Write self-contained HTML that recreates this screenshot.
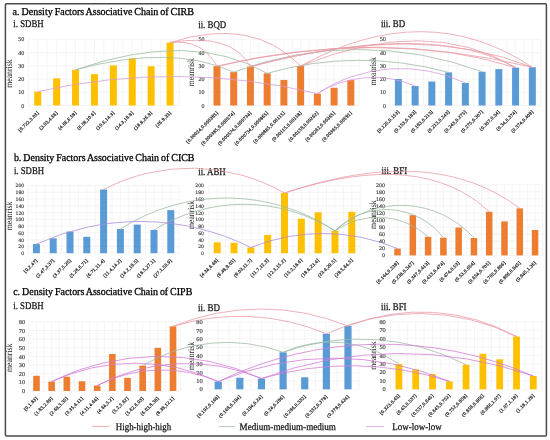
<!DOCTYPE html>
<html><head><meta charset="utf-8"><title>Density Factors Associative Chain</title><style>
html,body{margin:0;padding:0;background:#fff;}
svg{display:block;}
text{font-family:"Liberation Serif","Times New Roman",serif;text-rendering:geometricPrecision;}
.gr{stroke:#EFEFEF;stroke-width:0.6;}
.tk{fill:#4a4a4a;stroke:#4a4a4a;stroke-width:0.18;}
.xl{fill:#2e2e2e;stroke:#2e2e2e;stroke-width:0.27;}
.mr{fill:#262626;font-size:9.2px;}
.st{fill:#111;stroke:#111;stroke-width:0.25;font-size:10.2px;}
.tt{fill:#000;stroke:#000;stroke-width:0.3;word-spacing:-0.6px;font-size:10.6px;}
.lg{fill:#111;stroke:#111;stroke-width:0.25;font-size:10.0px;}
</style></head>
<body><svg width="550" height="440" viewBox="0 0 550 440">
<rect width="550" height="440" fill="#fff"/>
<line x1="28.3" y1="105.5" x2="179.5" y2="105.5" class="gr"/>
<line x1="28.3" y1="92.26" x2="179.5" y2="92.26" class="gr"/>
<line x1="28.3" y1="79.02" x2="179.5" y2="79.02" class="gr"/>
<line x1="28.3" y1="65.78" x2="179.5" y2="65.78" class="gr"/>
<line x1="28.3" y1="52.54" x2="179.5" y2="52.54" class="gr"/>
<line x1="28.3" y1="39.3" x2="179.5" y2="39.3" class="gr"/>
<line x1="28.3" y1="39.3" x2="28.3" y2="105.5" class="gr"/>
<line x1="37.75" y1="39.3" x2="37.75" y2="105.5" class="gr"/>
<line x1="47.2" y1="39.3" x2="47.2" y2="105.5" class="gr"/>
<line x1="56.65" y1="39.3" x2="56.65" y2="105.5" class="gr"/>
<line x1="66.1" y1="39.3" x2="66.1" y2="105.5" class="gr"/>
<line x1="75.55" y1="39.3" x2="75.55" y2="105.5" class="gr"/>
<line x1="85" y1="39.3" x2="85" y2="105.5" class="gr"/>
<line x1="94.45" y1="39.3" x2="94.45" y2="105.5" class="gr"/>
<line x1="103.9" y1="39.3" x2="103.9" y2="105.5" class="gr"/>
<line x1="113.35" y1="39.3" x2="113.35" y2="105.5" class="gr"/>
<line x1="122.8" y1="39.3" x2="122.8" y2="105.5" class="gr"/>
<line x1="132.25" y1="39.3" x2="132.25" y2="105.5" class="gr"/>
<line x1="141.7" y1="39.3" x2="141.7" y2="105.5" class="gr"/>
<line x1="151.15" y1="39.3" x2="151.15" y2="105.5" class="gr"/>
<line x1="160.6" y1="39.3" x2="160.6" y2="105.5" class="gr"/>
<line x1="170.05" y1="39.3" x2="170.05" y2="105.5" class="gr"/>
<line x1="179.5" y1="39.3" x2="179.5" y2="105.5" class="gr"/>
<text x="24.3" y="107.66" class="tk" font-size="6.0" text-anchor="end" textLength="3" lengthAdjust="spacingAndGlyphs">0</text>
<text x="24.3" y="94.42" class="tk" font-size="6.0" text-anchor="end" textLength="6" lengthAdjust="spacingAndGlyphs">10</text>
<text x="24.3" y="81.18" class="tk" font-size="6.0" text-anchor="end" textLength="6" lengthAdjust="spacingAndGlyphs">20</text>
<text x="24.3" y="67.94" class="tk" font-size="6.0" text-anchor="end" textLength="6" lengthAdjust="spacingAndGlyphs">30</text>
<text x="24.3" y="54.7" class="tk" font-size="6.0" text-anchor="end" textLength="6" lengthAdjust="spacingAndGlyphs">40</text>
<text x="24.3" y="41.46" class="tk" font-size="6.0" text-anchor="end" textLength="6" lengthAdjust="spacingAndGlyphs">50</text>
<text transform="translate(12.2,73.6) rotate(-90)" class="mr" text-anchor="middle" textLength="28.2" lengthAdjust="spacingAndGlyphs">meanrisk</text>
<rect x="34.25" y="91.6" width="7" height="13.9" fill="#FFC000"/>
<rect x="53.15" y="78.36" width="7" height="27.14" fill="#FFC000"/>
<rect x="72.05" y="69.75" width="7" height="35.75" fill="#FFC000"/>
<rect x="90.95" y="74.12" width="7" height="31.38" fill="#FFC000"/>
<rect x="109.85" y="65.38" width="7" height="40.12" fill="#FFC000"/>
<rect x="128.75" y="58.37" width="7" height="47.13" fill="#FFC000"/>
<rect x="147.65" y="66.18" width="7" height="39.32" fill="#FFC000"/>
<rect x="166.55" y="42.61" width="7" height="62.89" fill="#FFC000"/>
<text transform="translate(39.05,113.4) rotate(-45)" class="xl" font-size="4.81" text-anchor="end" textLength="26.55" lengthAdjust="spacing">[0.722,3.03]</text>
<text transform="translate(57.95,113.4) rotate(-45)" class="xl" font-size="4.81" text-anchor="end" textLength="23.85" lengthAdjust="spacing">(3.03,4.66]</text>
<text transform="translate(76.85,113.4) rotate(-45)" class="xl" font-size="4.81" text-anchor="end" textLength="23.85" lengthAdjust="spacing">(4.66,6.58]</text>
<text transform="translate(95.75,113.4) rotate(-45)" class="xl" font-size="4.81" text-anchor="end" textLength="23.85" lengthAdjust="spacing">(6.58,10.6]</text>
<text transform="translate(114.65,113.4) rotate(-45)" class="xl" font-size="4.81" text-anchor="end" textLength="23.85" lengthAdjust="spacing">(10.6,14.3]</text>
<text transform="translate(133.55,113.4) rotate(-45)" class="xl" font-size="4.81" text-anchor="end" textLength="23.85" lengthAdjust="spacing">(14.3,18.8]</text>
<text transform="translate(152.45,113.4) rotate(-45)" class="xl" font-size="4.81" text-anchor="end" textLength="23.85" lengthAdjust="spacing">(18.8,26.9]</text>
<text transform="translate(171.35,113.4) rotate(-45)" class="xl" font-size="4.81" text-anchor="end" textLength="19.8" lengthAdjust="spacing">(26.9,33]</text>
<text x="13.3" y="27.4" class="st" textLength="30.4" lengthAdjust="spacingAndGlyphs">i. SDBH</text>
<line x1="208.6" y1="105.5" x2="359.2" y2="105.5" class="gr"/>
<line x1="208.6" y1="92.26" x2="359.2" y2="92.26" class="gr"/>
<line x1="208.6" y1="79.02" x2="359.2" y2="79.02" class="gr"/>
<line x1="208.6" y1="65.78" x2="359.2" y2="65.78" class="gr"/>
<line x1="208.6" y1="52.54" x2="359.2" y2="52.54" class="gr"/>
<line x1="208.6" y1="39.3" x2="359.2" y2="39.3" class="gr"/>
<line x1="208.6" y1="39.3" x2="208.6" y2="105.5" class="gr"/>
<line x1="216.97" y1="39.3" x2="216.97" y2="105.5" class="gr"/>
<line x1="225.33" y1="39.3" x2="225.33" y2="105.5" class="gr"/>
<line x1="233.7" y1="39.3" x2="233.7" y2="105.5" class="gr"/>
<line x1="242.07" y1="39.3" x2="242.07" y2="105.5" class="gr"/>
<line x1="250.43" y1="39.3" x2="250.43" y2="105.5" class="gr"/>
<line x1="258.8" y1="39.3" x2="258.8" y2="105.5" class="gr"/>
<line x1="267.17" y1="39.3" x2="267.17" y2="105.5" class="gr"/>
<line x1="275.53" y1="39.3" x2="275.53" y2="105.5" class="gr"/>
<line x1="283.9" y1="39.3" x2="283.9" y2="105.5" class="gr"/>
<line x1="292.27" y1="39.3" x2="292.27" y2="105.5" class="gr"/>
<line x1="300.63" y1="39.3" x2="300.63" y2="105.5" class="gr"/>
<line x1="309" y1="39.3" x2="309" y2="105.5" class="gr"/>
<line x1="317.37" y1="39.3" x2="317.37" y2="105.5" class="gr"/>
<line x1="325.73" y1="39.3" x2="325.73" y2="105.5" class="gr"/>
<line x1="334.1" y1="39.3" x2="334.1" y2="105.5" class="gr"/>
<line x1="342.47" y1="39.3" x2="342.47" y2="105.5" class="gr"/>
<line x1="350.83" y1="39.3" x2="350.83" y2="105.5" class="gr"/>
<line x1="359.2" y1="39.3" x2="359.2" y2="105.5" class="gr"/>
<text x="204.4" y="107.66" class="tk" font-size="6.0" text-anchor="end" textLength="3" lengthAdjust="spacingAndGlyphs">0</text>
<text x="204.4" y="94.42" class="tk" font-size="6.0" text-anchor="end" textLength="6" lengthAdjust="spacingAndGlyphs">10</text>
<text x="204.4" y="81.18" class="tk" font-size="6.0" text-anchor="end" textLength="6" lengthAdjust="spacingAndGlyphs">20</text>
<text x="204.4" y="67.94" class="tk" font-size="6.0" text-anchor="end" textLength="6" lengthAdjust="spacingAndGlyphs">30</text>
<text x="204.4" y="54.7" class="tk" font-size="6.0" text-anchor="end" textLength="6" lengthAdjust="spacingAndGlyphs">40</text>
<text x="204.4" y="41.46" class="tk" font-size="6.0" text-anchor="end" textLength="6" lengthAdjust="spacingAndGlyphs">50</text>
<text transform="translate(194,72.2) rotate(-90)" class="mr" text-anchor="middle" textLength="28.0" lengthAdjust="spacingAndGlyphs">meanrisk</text>
<rect x="213.47" y="66.18" width="7" height="39.32" fill="#ED7D31"/>
<rect x="230.2" y="72.14" width="7" height="33.36" fill="#ED7D31"/>
<rect x="246.93" y="66.57" width="7" height="38.93" fill="#ED7D31"/>
<rect x="263.67" y="73.33" width="7" height="32.17" fill="#ED7D31"/>
<rect x="280.4" y="79.95" width="7" height="25.55" fill="#ED7D31"/>
<rect x="297.13" y="66.04" width="7" height="39.46" fill="#ED7D31"/>
<rect x="313.87" y="93.58" width="7" height="11.92" fill="#ED7D31"/>
<rect x="330.6" y="87.76" width="7" height="17.74" fill="#ED7D31"/>
<rect x="347.33" y="80.08" width="7" height="25.42" fill="#ED7D31"/>
<text transform="translate(218.27,113.4) rotate(-45)" class="xl" font-size="4.81" text-anchor="end" textLength="42.75" lengthAdjust="spacing">[0.00024,0.000385]</text>
<text transform="translate(235,113.4) rotate(-45)" class="xl" font-size="4.81" text-anchor="end" textLength="45.45" lengthAdjust="spacing">(0.000385,0.000574]</text>
<text transform="translate(251.73,113.4) rotate(-45)" class="xl" font-size="4.81" text-anchor="end" textLength="45.45" lengthAdjust="spacing">(0.000574,0.000734]</text>
<text transform="translate(268.47,113.4) rotate(-45)" class="xl" font-size="4.81" text-anchor="end" textLength="45.45" lengthAdjust="spacing">(0.000734,0.000865]</text>
<text transform="translate(285.2,113.4) rotate(-45)" class="xl" font-size="4.81" text-anchor="end" textLength="42.55" lengthAdjust="spacing">(0.000865,0.00115]</text>
<text transform="translate(301.93,113.4) rotate(-45)" class="xl" font-size="4.81" text-anchor="end" textLength="39.85" lengthAdjust="spacing">(0.00115,0.00158]</text>
<text transform="translate(318.67,113.4) rotate(-45)" class="xl" font-size="4.81" text-anchor="end" textLength="40.05" lengthAdjust="spacing">(0.00158,0.00262]</text>
<text transform="translate(335.4,113.4) rotate(-45)" class="xl" font-size="4.81" text-anchor="end" textLength="40.05" lengthAdjust="spacing">(0.00262,0.00365]</text>
<text transform="translate(352.13,113.4) rotate(-45)" class="xl" font-size="4.81" text-anchor="end" textLength="40.05" lengthAdjust="spacing">(0.00365,0.00591]</text>
<text x="198.2" y="28.3" class="st" textLength="28.0" lengthAdjust="spacingAndGlyphs">ii. BQD</text>
<line x1="390" y1="105.5" x2="540.7" y2="105.5" class="gr"/>
<line x1="390" y1="92.26" x2="540.7" y2="92.26" class="gr"/>
<line x1="390" y1="79.02" x2="540.7" y2="79.02" class="gr"/>
<line x1="390" y1="65.78" x2="540.7" y2="65.78" class="gr"/>
<line x1="390" y1="52.54" x2="540.7" y2="52.54" class="gr"/>
<line x1="390" y1="39.3" x2="540.7" y2="39.3" class="gr"/>
<line x1="390" y1="39.3" x2="390" y2="105.5" class="gr"/>
<line x1="398.37" y1="39.3" x2="398.37" y2="105.5" class="gr"/>
<line x1="406.74" y1="39.3" x2="406.74" y2="105.5" class="gr"/>
<line x1="415.12" y1="39.3" x2="415.12" y2="105.5" class="gr"/>
<line x1="423.49" y1="39.3" x2="423.49" y2="105.5" class="gr"/>
<line x1="431.86" y1="39.3" x2="431.86" y2="105.5" class="gr"/>
<line x1="440.23" y1="39.3" x2="440.23" y2="105.5" class="gr"/>
<line x1="448.61" y1="39.3" x2="448.61" y2="105.5" class="gr"/>
<line x1="456.98" y1="39.3" x2="456.98" y2="105.5" class="gr"/>
<line x1="465.35" y1="39.3" x2="465.35" y2="105.5" class="gr"/>
<line x1="473.72" y1="39.3" x2="473.72" y2="105.5" class="gr"/>
<line x1="482.09" y1="39.3" x2="482.09" y2="105.5" class="gr"/>
<line x1="490.47" y1="39.3" x2="490.47" y2="105.5" class="gr"/>
<line x1="498.84" y1="39.3" x2="498.84" y2="105.5" class="gr"/>
<line x1="507.21" y1="39.3" x2="507.21" y2="105.5" class="gr"/>
<line x1="515.58" y1="39.3" x2="515.58" y2="105.5" class="gr"/>
<line x1="523.96" y1="39.3" x2="523.96" y2="105.5" class="gr"/>
<line x1="532.33" y1="39.3" x2="532.33" y2="105.5" class="gr"/>
<line x1="540.7" y1="39.3" x2="540.7" y2="105.5" class="gr"/>
<text x="386" y="107.66" class="tk" font-size="6.0" text-anchor="end" textLength="3" lengthAdjust="spacingAndGlyphs">0</text>
<text x="386" y="94.42" class="tk" font-size="6.0" text-anchor="end" textLength="6" lengthAdjust="spacingAndGlyphs">10</text>
<text x="386" y="81.18" class="tk" font-size="6.0" text-anchor="end" textLength="6" lengthAdjust="spacingAndGlyphs">20</text>
<text x="386" y="67.94" class="tk" font-size="6.0" text-anchor="end" textLength="6" lengthAdjust="spacingAndGlyphs">30</text>
<text x="386" y="54.7" class="tk" font-size="6.0" text-anchor="end" textLength="6" lengthAdjust="spacingAndGlyphs">40</text>
<text x="386" y="41.46" class="tk" font-size="6.0" text-anchor="end" textLength="6" lengthAdjust="spacingAndGlyphs">50</text>
<text transform="translate(376,71.3) rotate(-90)" class="mr" text-anchor="middle" textLength="28.2" lengthAdjust="spacingAndGlyphs">meanrisk</text>
<rect x="394.87" y="79.02" width="7" height="26.48" fill="#5B9BD5"/>
<rect x="411.62" y="86.04" width="7" height="19.46" fill="#5B9BD5"/>
<rect x="428.36" y="81.54" width="7" height="23.96" fill="#5B9BD5"/>
<rect x="445.11" y="72.4" width="7" height="33.1" fill="#5B9BD5"/>
<rect x="461.85" y="82.99" width="7" height="22.51" fill="#5B9BD5"/>
<rect x="478.59" y="71.74" width="7" height="33.76" fill="#5B9BD5"/>
<rect x="495.34" y="69.09" width="7" height="36.41" fill="#5B9BD5"/>
<rect x="512.08" y="67.63" width="7" height="37.87" fill="#5B9BD5"/>
<rect x="528.83" y="67.24" width="7" height="38.26" fill="#5B9BD5"/>
<text transform="translate(399.67,112.3) rotate(-45)" class="xl" font-size="4.81" text-anchor="end" textLength="29.25" lengthAdjust="spacing">[0.125,0.153]</text>
<text transform="translate(416.42,112.3) rotate(-45)" class="xl" font-size="4.81" text-anchor="end" textLength="29.25" lengthAdjust="spacing">(0.153,0.183]</text>
<text transform="translate(433.16,112.3) rotate(-45)" class="xl" font-size="4.81" text-anchor="end" textLength="29.25" lengthAdjust="spacing">(0.183,0.213]</text>
<text transform="translate(449.91,112.3) rotate(-45)" class="xl" font-size="4.81" text-anchor="end" textLength="29.25" lengthAdjust="spacing">(0.213,0.243]</text>
<text transform="translate(466.65,112.3) rotate(-45)" class="xl" font-size="4.81" text-anchor="end" textLength="29.25" lengthAdjust="spacing">(0.243,0.275]</text>
<text transform="translate(483.39,112.3) rotate(-45)" class="xl" font-size="4.81" text-anchor="end" textLength="29.25" lengthAdjust="spacing">(0.275,0.307]</text>
<text transform="translate(500.14,112.3) rotate(-45)" class="xl" font-size="4.81" text-anchor="end" textLength="26.55" lengthAdjust="spacing">(0.307,0.34]</text>
<text transform="translate(516.88,112.3) rotate(-45)" class="xl" font-size="4.81" text-anchor="end" textLength="26.55" lengthAdjust="spacing">(0.34,0.374]</text>
<text transform="translate(533.63,112.3) rotate(-45)" class="xl" font-size="4.81" text-anchor="end" textLength="29.25" lengthAdjust="spacing">(0.374,0.409]</text>
<text x="380.9" y="27.2" class="st" textLength="24.2" lengthAdjust="spacingAndGlyphs">iii. BD</text>
<line x1="28" y1="253.2" x2="179.2" y2="253.2" class="gr"/>
<line x1="28" y1="246.44" x2="179.2" y2="246.44" class="gr"/>
<line x1="28" y1="239.68" x2="179.2" y2="239.68" class="gr"/>
<line x1="28" y1="232.92" x2="179.2" y2="232.92" class="gr"/>
<line x1="28" y1="226.16" x2="179.2" y2="226.16" class="gr"/>
<line x1="28" y1="219.4" x2="179.2" y2="219.4" class="gr"/>
<line x1="28" y1="212.64" x2="179.2" y2="212.64" class="gr"/>
<line x1="28" y1="205.88" x2="179.2" y2="205.88" class="gr"/>
<line x1="28" y1="199.12" x2="179.2" y2="199.12" class="gr"/>
<line x1="28" y1="192.36" x2="179.2" y2="192.36" class="gr"/>
<line x1="28" y1="185.6" x2="179.2" y2="185.6" class="gr"/>
<line x1="28" y1="185.6" x2="28" y2="253.2" class="gr"/>
<line x1="36.4" y1="185.6" x2="36.4" y2="253.2" class="gr"/>
<line x1="44.8" y1="185.6" x2="44.8" y2="253.2" class="gr"/>
<line x1="53.2" y1="185.6" x2="53.2" y2="253.2" class="gr"/>
<line x1="61.6" y1="185.6" x2="61.6" y2="253.2" class="gr"/>
<line x1="70" y1="185.6" x2="70" y2="253.2" class="gr"/>
<line x1="78.4" y1="185.6" x2="78.4" y2="253.2" class="gr"/>
<line x1="86.8" y1="185.6" x2="86.8" y2="253.2" class="gr"/>
<line x1="95.2" y1="185.6" x2="95.2" y2="253.2" class="gr"/>
<line x1="103.6" y1="185.6" x2="103.6" y2="253.2" class="gr"/>
<line x1="112" y1="185.6" x2="112" y2="253.2" class="gr"/>
<line x1="120.4" y1="185.6" x2="120.4" y2="253.2" class="gr"/>
<line x1="128.8" y1="185.6" x2="128.8" y2="253.2" class="gr"/>
<line x1="137.2" y1="185.6" x2="137.2" y2="253.2" class="gr"/>
<line x1="145.6" y1="185.6" x2="145.6" y2="253.2" class="gr"/>
<line x1="154" y1="185.6" x2="154" y2="253.2" class="gr"/>
<line x1="162.4" y1="185.6" x2="162.4" y2="253.2" class="gr"/>
<line x1="170.8" y1="185.6" x2="170.8" y2="253.2" class="gr"/>
<line x1="179.2" y1="185.6" x2="179.2" y2="253.2" class="gr"/>
<text x="24.1" y="255.07" class="tk" font-size="5.2" text-anchor="end" textLength="2.86" lengthAdjust="spacingAndGlyphs">0</text>
<text x="24.1" y="248.31" class="tk" font-size="5.2" text-anchor="end" textLength="5.72" lengthAdjust="spacingAndGlyphs">20</text>
<text x="24.1" y="241.55" class="tk" font-size="5.2" text-anchor="end" textLength="5.72" lengthAdjust="spacingAndGlyphs">40</text>
<text x="24.1" y="234.79" class="tk" font-size="5.2" text-anchor="end" textLength="5.72" lengthAdjust="spacingAndGlyphs">60</text>
<text x="24.1" y="228.03" class="tk" font-size="5.2" text-anchor="end" textLength="5.72" lengthAdjust="spacingAndGlyphs">80</text>
<text x="24.1" y="221.27" class="tk" font-size="5.2" text-anchor="end" textLength="8.58" lengthAdjust="spacingAndGlyphs">100</text>
<text x="24.1" y="214.51" class="tk" font-size="5.2" text-anchor="end" textLength="8.58" lengthAdjust="spacingAndGlyphs">120</text>
<text x="24.1" y="207.75" class="tk" font-size="5.2" text-anchor="end" textLength="8.58" lengthAdjust="spacingAndGlyphs">140</text>
<text x="24.1" y="200.99" class="tk" font-size="5.2" text-anchor="end" textLength="8.58" lengthAdjust="spacingAndGlyphs">160</text>
<text x="24.1" y="194.23" class="tk" font-size="5.2" text-anchor="end" textLength="8.58" lengthAdjust="spacingAndGlyphs">180</text>
<text x="24.1" y="187.47" class="tk" font-size="5.2" text-anchor="end" textLength="8.58" lengthAdjust="spacingAndGlyphs">200</text>
<text transform="translate(12.2,215.9) rotate(-90)" class="mr" text-anchor="middle" textLength="28.6" lengthAdjust="spacingAndGlyphs">meanrisk</text>
<rect x="32.9" y="244.07" width="7" height="9.13" fill="#5B9BD5"/>
<rect x="49.7" y="238.33" width="7" height="14.87" fill="#5B9BD5"/>
<rect x="66.5" y="231.57" width="7" height="21.63" fill="#5B9BD5"/>
<rect x="83.3" y="236.81" width="7" height="16.39" fill="#5B9BD5"/>
<rect x="100.1" y="189.49" width="7" height="63.71" fill="#5B9BD5"/>
<rect x="116.9" y="229" width="7" height="24.2" fill="#5B9BD5"/>
<rect x="133.7" y="224.61" width="7" height="28.59" fill="#5B9BD5"/>
<rect x="150.5" y="230.01" width="7" height="23.19" fill="#5B9BD5"/>
<rect x="167.3" y="210.1" width="7" height="43.09" fill="#5B9BD5"/>
<text transform="translate(37.7,261.1) rotate(-45)" class="xl" font-size="4.81" text-anchor="end" textLength="17.1" lengthAdjust="spacing">[0,2.47]</text>
<text transform="translate(54.5,261.1) rotate(-45)" class="xl" font-size="4.81" text-anchor="end" textLength="23.85" lengthAdjust="spacing">(2.47,3.37]</text>
<text transform="translate(71.3,261.1) rotate(-45)" class="xl" font-size="4.81" text-anchor="end" textLength="23.85" lengthAdjust="spacing">(3.37,5.26]</text>
<text transform="translate(88.1,261.1) rotate(-45)" class="xl" font-size="4.81" text-anchor="end" textLength="23.85" lengthAdjust="spacing">(5.26,6.71]</text>
<text transform="translate(104.9,261.1) rotate(-45)" class="xl" font-size="4.81" text-anchor="end" textLength="23.65" lengthAdjust="spacing">(6.71,11.4]</text>
<text transform="translate(121.7,261.1) rotate(-45)" class="xl" font-size="4.81" text-anchor="end" textLength="23.65" lengthAdjust="spacing">(11.4,14.2]</text>
<text transform="translate(138.5,261.1) rotate(-45)" class="xl" font-size="4.81" text-anchor="end" textLength="23.85" lengthAdjust="spacing">(14.2,18.5]</text>
<text transform="translate(155.3,261.1) rotate(-45)" class="xl" font-size="4.81" text-anchor="end" textLength="23.85" lengthAdjust="spacing">(18.5,27.1]</text>
<text transform="translate(172.1,261.1) rotate(-45)" class="xl" font-size="4.81" text-anchor="end" textLength="23.85" lengthAdjust="spacing">(27.1,50.9]</text>
<text x="13.9" y="174.2" class="st" textLength="30.2" lengthAdjust="spacingAndGlyphs">i. SDBH</text>
<line x1="208.8" y1="253.2" x2="360.2" y2="253.2" class="gr"/>
<line x1="208.8" y1="246.44" x2="360.2" y2="246.44" class="gr"/>
<line x1="208.8" y1="239.68" x2="360.2" y2="239.68" class="gr"/>
<line x1="208.8" y1="232.92" x2="360.2" y2="232.92" class="gr"/>
<line x1="208.8" y1="226.16" x2="360.2" y2="226.16" class="gr"/>
<line x1="208.8" y1="219.4" x2="360.2" y2="219.4" class="gr"/>
<line x1="208.8" y1="212.64" x2="360.2" y2="212.64" class="gr"/>
<line x1="208.8" y1="205.88" x2="360.2" y2="205.88" class="gr"/>
<line x1="208.8" y1="199.12" x2="360.2" y2="199.12" class="gr"/>
<line x1="208.8" y1="192.36" x2="360.2" y2="192.36" class="gr"/>
<line x1="208.8" y1="185.6" x2="360.2" y2="185.6" class="gr"/>
<line x1="208.8" y1="185.6" x2="208.8" y2="253.2" class="gr"/>
<line x1="217.21" y1="185.6" x2="217.21" y2="253.2" class="gr"/>
<line x1="225.62" y1="185.6" x2="225.62" y2="253.2" class="gr"/>
<line x1="234.03" y1="185.6" x2="234.03" y2="253.2" class="gr"/>
<line x1="242.44" y1="185.6" x2="242.44" y2="253.2" class="gr"/>
<line x1="250.86" y1="185.6" x2="250.86" y2="253.2" class="gr"/>
<line x1="259.27" y1="185.6" x2="259.27" y2="253.2" class="gr"/>
<line x1="267.68" y1="185.6" x2="267.68" y2="253.2" class="gr"/>
<line x1="276.09" y1="185.6" x2="276.09" y2="253.2" class="gr"/>
<line x1="284.5" y1="185.6" x2="284.5" y2="253.2" class="gr"/>
<line x1="292.91" y1="185.6" x2="292.91" y2="253.2" class="gr"/>
<line x1="301.32" y1="185.6" x2="301.32" y2="253.2" class="gr"/>
<line x1="309.73" y1="185.6" x2="309.73" y2="253.2" class="gr"/>
<line x1="318.14" y1="185.6" x2="318.14" y2="253.2" class="gr"/>
<line x1="326.56" y1="185.6" x2="326.56" y2="253.2" class="gr"/>
<line x1="334.97" y1="185.6" x2="334.97" y2="253.2" class="gr"/>
<line x1="343.38" y1="185.6" x2="343.38" y2="253.2" class="gr"/>
<line x1="351.79" y1="185.6" x2="351.79" y2="253.2" class="gr"/>
<line x1="360.2" y1="185.6" x2="360.2" y2="253.2" class="gr"/>
<text x="203.9" y="255.07" class="tk" font-size="5.2" text-anchor="end" textLength="2.86" lengthAdjust="spacingAndGlyphs">0</text>
<text x="203.9" y="248.31" class="tk" font-size="5.2" text-anchor="end" textLength="5.72" lengthAdjust="spacingAndGlyphs">20</text>
<text x="203.9" y="241.55" class="tk" font-size="5.2" text-anchor="end" textLength="5.72" lengthAdjust="spacingAndGlyphs">40</text>
<text x="203.9" y="234.79" class="tk" font-size="5.2" text-anchor="end" textLength="5.72" lengthAdjust="spacingAndGlyphs">60</text>
<text x="203.9" y="228.03" class="tk" font-size="5.2" text-anchor="end" textLength="5.72" lengthAdjust="spacingAndGlyphs">80</text>
<text x="203.9" y="221.27" class="tk" font-size="5.2" text-anchor="end" textLength="8.58" lengthAdjust="spacingAndGlyphs">100</text>
<text x="203.9" y="214.51" class="tk" font-size="5.2" text-anchor="end" textLength="8.58" lengthAdjust="spacingAndGlyphs">120</text>
<text x="203.9" y="207.75" class="tk" font-size="5.2" text-anchor="end" textLength="8.58" lengthAdjust="spacingAndGlyphs">140</text>
<text x="203.9" y="200.99" class="tk" font-size="5.2" text-anchor="end" textLength="8.58" lengthAdjust="spacingAndGlyphs">160</text>
<text x="203.9" y="194.23" class="tk" font-size="5.2" text-anchor="end" textLength="8.58" lengthAdjust="spacingAndGlyphs">180</text>
<text x="203.9" y="187.47" class="tk" font-size="5.2" text-anchor="end" textLength="8.58" lengthAdjust="spacingAndGlyphs">200</text>
<text transform="translate(194,214.9) rotate(-90)" class="mr" text-anchor="middle" textLength="28.2" lengthAdjust="spacingAndGlyphs">meanrisk</text>
<rect x="213.71" y="242.38" width="7" height="10.82" fill="#FFC000"/>
<rect x="230.53" y="242.72" width="7" height="10.48" fill="#FFC000"/>
<rect x="247.36" y="247.45" width="7" height="5.75" fill="#FFC000"/>
<rect x="264.18" y="234.95" width="7" height="18.25" fill="#FFC000"/>
<rect x="281" y="193.04" width="7" height="60.16" fill="#FFC000"/>
<rect x="297.82" y="218.72" width="7" height="34.48" fill="#FFC000"/>
<rect x="314.64" y="212.3" width="7" height="40.9" fill="#FFC000"/>
<rect x="331.47" y="230.89" width="7" height="22.31" fill="#FFC000"/>
<rect x="348.29" y="211.79" width="7" height="41.41" fill="#FFC000"/>
<text transform="translate(218.51,260.7) rotate(-45)" class="xl" font-size="4.81" text-anchor="end" textLength="23.85" lengthAdjust="spacing">[4.34,6.48]</text>
<text transform="translate(235.33,260.7) rotate(-45)" class="xl" font-size="4.81" text-anchor="end" textLength="23.85" lengthAdjust="spacing">(6.48,9.03]</text>
<text transform="translate(252.16,260.7) rotate(-45)" class="xl" font-size="4.81" text-anchor="end" textLength="23.65" lengthAdjust="spacing">(9.03,11.7]</text>
<text transform="translate(268.98,260.7) rotate(-45)" class="xl" font-size="4.81" text-anchor="end" textLength="23.65" lengthAdjust="spacing">(11.7,12.3]</text>
<text transform="translate(285.8,260.7) rotate(-45)" class="xl" font-size="4.81" text-anchor="end" textLength="23.85" lengthAdjust="spacing">(12.3,15.2]</text>
<text transform="translate(302.62,260.7) rotate(-45)" class="xl" font-size="4.81" text-anchor="end" textLength="23.85" lengthAdjust="spacing">(15.2,18.6]</text>
<text transform="translate(319.44,260.7) rotate(-45)" class="xl" font-size="4.81" text-anchor="end" textLength="23.85" lengthAdjust="spacing">(18.6,23.4]</text>
<text transform="translate(336.27,260.7) rotate(-45)" class="xl" font-size="4.81" text-anchor="end" textLength="23.85" lengthAdjust="spacing">(23.4,29.5]</text>
<text transform="translate(353.09,260.7) rotate(-45)" class="xl" font-size="4.81" text-anchor="end" textLength="23.85" lengthAdjust="spacing">(29.5,64.5]</text>
<text x="198.2" y="174.8" class="st" textLength="27.5" lengthAdjust="spacingAndGlyphs">ii. ABH</text>
<line x1="389.9" y1="255.4" x2="542.7" y2="255.4" class="gr"/>
<line x1="389.9" y1="248.32" x2="542.7" y2="248.32" class="gr"/>
<line x1="389.9" y1="241.24" x2="542.7" y2="241.24" class="gr"/>
<line x1="389.9" y1="234.16" x2="542.7" y2="234.16" class="gr"/>
<line x1="389.9" y1="227.08" x2="542.7" y2="227.08" class="gr"/>
<line x1="389.9" y1="220" x2="542.7" y2="220" class="gr"/>
<line x1="389.9" y1="212.92" x2="542.7" y2="212.92" class="gr"/>
<line x1="389.9" y1="205.84" x2="542.7" y2="205.84" class="gr"/>
<line x1="389.9" y1="198.76" x2="542.7" y2="198.76" class="gr"/>
<line x1="389.9" y1="191.68" x2="542.7" y2="191.68" class="gr"/>
<line x1="389.9" y1="184.6" x2="542.7" y2="184.6" class="gr"/>
<line x1="389.9" y1="184.6" x2="389.9" y2="255.4" class="gr"/>
<line x1="397.54" y1="184.6" x2="397.54" y2="255.4" class="gr"/>
<line x1="405.18" y1="184.6" x2="405.18" y2="255.4" class="gr"/>
<line x1="412.82" y1="184.6" x2="412.82" y2="255.4" class="gr"/>
<line x1="420.46" y1="184.6" x2="420.46" y2="255.4" class="gr"/>
<line x1="428.1" y1="184.6" x2="428.1" y2="255.4" class="gr"/>
<line x1="435.74" y1="184.6" x2="435.74" y2="255.4" class="gr"/>
<line x1="443.38" y1="184.6" x2="443.38" y2="255.4" class="gr"/>
<line x1="451.02" y1="184.6" x2="451.02" y2="255.4" class="gr"/>
<line x1="458.66" y1="184.6" x2="458.66" y2="255.4" class="gr"/>
<line x1="466.3" y1="184.6" x2="466.3" y2="255.4" class="gr"/>
<line x1="473.94" y1="184.6" x2="473.94" y2="255.4" class="gr"/>
<line x1="481.58" y1="184.6" x2="481.58" y2="255.4" class="gr"/>
<line x1="489.22" y1="184.6" x2="489.22" y2="255.4" class="gr"/>
<line x1="496.86" y1="184.6" x2="496.86" y2="255.4" class="gr"/>
<line x1="504.5" y1="184.6" x2="504.5" y2="255.4" class="gr"/>
<line x1="512.14" y1="184.6" x2="512.14" y2="255.4" class="gr"/>
<line x1="519.78" y1="184.6" x2="519.78" y2="255.4" class="gr"/>
<line x1="527.42" y1="184.6" x2="527.42" y2="255.4" class="gr"/>
<line x1="535.06" y1="184.6" x2="535.06" y2="255.4" class="gr"/>
<line x1="542.7" y1="184.6" x2="542.7" y2="255.4" class="gr"/>
<text x="385" y="257.34" class="tk" font-size="5.4" text-anchor="end" textLength="2.97" lengthAdjust="spacingAndGlyphs">0</text>
<text x="385" y="250.26" class="tk" font-size="5.4" text-anchor="end" textLength="5.94" lengthAdjust="spacingAndGlyphs">20</text>
<text x="385" y="243.18" class="tk" font-size="5.4" text-anchor="end" textLength="5.94" lengthAdjust="spacingAndGlyphs">40</text>
<text x="385" y="236.1" class="tk" font-size="5.4" text-anchor="end" textLength="5.94" lengthAdjust="spacingAndGlyphs">60</text>
<text x="385" y="229.02" class="tk" font-size="5.4" text-anchor="end" textLength="5.94" lengthAdjust="spacingAndGlyphs">80</text>
<text x="385" y="221.94" class="tk" font-size="5.4" text-anchor="end" textLength="8.91" lengthAdjust="spacingAndGlyphs">100</text>
<text x="385" y="214.86" class="tk" font-size="5.4" text-anchor="end" textLength="8.91" lengthAdjust="spacingAndGlyphs">120</text>
<text x="385" y="207.78" class="tk" font-size="5.4" text-anchor="end" textLength="8.91" lengthAdjust="spacingAndGlyphs">140</text>
<text x="385" y="200.7" class="tk" font-size="5.4" text-anchor="end" textLength="8.91" lengthAdjust="spacingAndGlyphs">160</text>
<text x="385" y="193.62" class="tk" font-size="5.4" text-anchor="end" textLength="8.91" lengthAdjust="spacingAndGlyphs">180</text>
<text x="385" y="186.54" class="tk" font-size="5.4" text-anchor="end" textLength="8.91" lengthAdjust="spacingAndGlyphs">200</text>
<text transform="translate(375.6,214.6) rotate(-90)" class="mr" text-anchor="middle" textLength="28.6" lengthAdjust="spacingAndGlyphs">meanrisk</text>
<rect x="394.29" y="248.6" width="6.5" height="6.8" fill="#ED7D31"/>
<rect x="409.57" y="215.19" width="6.5" height="40.21" fill="#ED7D31"/>
<rect x="424.85" y="236.81" width="6.5" height="18.59" fill="#ED7D31"/>
<rect x="440.13" y="237.7" width="6.5" height="17.7" fill="#ED7D31"/>
<rect x="455.41" y="227.5" width="6.5" height="27.9" fill="#ED7D31"/>
<rect x="470.69" y="237.98" width="6.5" height="17.42" fill="#ED7D31"/>
<rect x="485.97" y="211.79" width="6.5" height="43.61" fill="#ED7D31"/>
<rect x="501.25" y="221.42" width="6.5" height="33.98" fill="#ED7D31"/>
<rect x="516.53" y="208.39" width="6.5" height="47.01" fill="#ED7D31"/>
<rect x="531.81" y="229.98" width="6.5" height="25.42" fill="#ED7D31"/>
<text transform="translate(398.84,263.3) rotate(-45)" class="xl" font-size="4.81" text-anchor="end" textLength="29.25" lengthAdjust="spacing">[0.144,0.238]</text>
<text transform="translate(414.12,263.3) rotate(-45)" class="xl" font-size="4.81" text-anchor="end" textLength="29.25" lengthAdjust="spacing">(0.238,0.347]</text>
<text transform="translate(429.4,263.3) rotate(-45)" class="xl" font-size="4.81" text-anchor="end" textLength="29.25" lengthAdjust="spacing">(0.347,0.413]</text>
<text transform="translate(444.68,263.3) rotate(-45)" class="xl" font-size="4.81" text-anchor="end" textLength="29.25" lengthAdjust="spacing">(0.413,0.474]</text>
<text transform="translate(459.96,263.3) rotate(-45)" class="xl" font-size="4.81" text-anchor="end" textLength="26.55" lengthAdjust="spacing">(0.474,0.53]</text>
<text transform="translate(475.24,263.3) rotate(-45)" class="xl" font-size="4.81" text-anchor="end" textLength="26.55" lengthAdjust="spacing">(0.53,0.654]</text>
<text transform="translate(490.52,263.3) rotate(-45)" class="xl" font-size="4.81" text-anchor="end" textLength="29.25" lengthAdjust="spacing">(0.654,0.705]</text>
<text transform="translate(505.8,263.3) rotate(-45)" class="xl" font-size="4.81" text-anchor="end" textLength="29.25" lengthAdjust="spacing">(0.705,0.806]</text>
<text transform="translate(521.08,263.3) rotate(-45)" class="xl" font-size="4.81" text-anchor="end" textLength="29.25" lengthAdjust="spacing">(0.806,0.945]</text>
<text transform="translate(536.36,263.3) rotate(-45)" class="xl" font-size="4.81" text-anchor="end" textLength="26.55" lengthAdjust="spacing">(0.945,1.36]</text>
<text x="381.6" y="174.1" class="st" textLength="25.5" lengthAdjust="spacingAndGlyphs">iii. BFI</text>
<line x1="28.9" y1="391" x2="180.6" y2="391" class="gr"/>
<line x1="28.9" y1="382.36" x2="180.6" y2="382.36" class="gr"/>
<line x1="28.9" y1="373.73" x2="180.6" y2="373.73" class="gr"/>
<line x1="28.9" y1="365.09" x2="180.6" y2="365.09" class="gr"/>
<line x1="28.9" y1="356.45" x2="180.6" y2="356.45" class="gr"/>
<line x1="28.9" y1="347.81" x2="180.6" y2="347.81" class="gr"/>
<line x1="28.9" y1="339.17" x2="180.6" y2="339.17" class="gr"/>
<line x1="28.9" y1="330.54" x2="180.6" y2="330.54" class="gr"/>
<line x1="28.9" y1="321.9" x2="180.6" y2="321.9" class="gr"/>
<line x1="28.9" y1="321.9" x2="28.9" y2="391" class="gr"/>
<line x1="36.48" y1="321.9" x2="36.48" y2="391" class="gr"/>
<line x1="44.07" y1="321.9" x2="44.07" y2="391" class="gr"/>
<line x1="51.65" y1="321.9" x2="51.65" y2="391" class="gr"/>
<line x1="59.24" y1="321.9" x2="59.24" y2="391" class="gr"/>
<line x1="66.82" y1="321.9" x2="66.82" y2="391" class="gr"/>
<line x1="74.41" y1="321.9" x2="74.41" y2="391" class="gr"/>
<line x1="81.99" y1="321.9" x2="81.99" y2="391" class="gr"/>
<line x1="89.58" y1="321.9" x2="89.58" y2="391" class="gr"/>
<line x1="97.16" y1="321.9" x2="97.16" y2="391" class="gr"/>
<line x1="104.75" y1="321.9" x2="104.75" y2="391" class="gr"/>
<line x1="112.33" y1="321.9" x2="112.33" y2="391" class="gr"/>
<line x1="119.92" y1="321.9" x2="119.92" y2="391" class="gr"/>
<line x1="127.5" y1="321.9" x2="127.5" y2="391" class="gr"/>
<line x1="135.09" y1="321.9" x2="135.09" y2="391" class="gr"/>
<line x1="142.67" y1="321.9" x2="142.67" y2="391" class="gr"/>
<line x1="150.26" y1="321.9" x2="150.26" y2="391" class="gr"/>
<line x1="157.84" y1="321.9" x2="157.84" y2="391" class="gr"/>
<line x1="165.43" y1="321.9" x2="165.43" y2="391" class="gr"/>
<line x1="173.01" y1="321.9" x2="173.01" y2="391" class="gr"/>
<line x1="180.6" y1="321.9" x2="180.6" y2="391" class="gr"/>
<text x="25.1" y="393.09" class="tk" font-size="5.8" text-anchor="end" textLength="3.19" lengthAdjust="spacingAndGlyphs">0</text>
<text x="25.1" y="384.45" class="tk" font-size="5.8" text-anchor="end" textLength="6.38" lengthAdjust="spacingAndGlyphs">10</text>
<text x="25.1" y="375.81" class="tk" font-size="5.8" text-anchor="end" textLength="6.38" lengthAdjust="spacingAndGlyphs">20</text>
<text x="25.1" y="367.18" class="tk" font-size="5.8" text-anchor="end" textLength="6.38" lengthAdjust="spacingAndGlyphs">30</text>
<text x="25.1" y="358.54" class="tk" font-size="5.8" text-anchor="end" textLength="6.38" lengthAdjust="spacingAndGlyphs">40</text>
<text x="25.1" y="349.9" class="tk" font-size="5.8" text-anchor="end" textLength="6.38" lengthAdjust="spacingAndGlyphs">50</text>
<text x="25.1" y="341.26" class="tk" font-size="5.8" text-anchor="end" textLength="6.38" lengthAdjust="spacingAndGlyphs">60</text>
<text x="25.1" y="332.63" class="tk" font-size="5.8" text-anchor="end" textLength="6.38" lengthAdjust="spacingAndGlyphs">70</text>
<text x="25.1" y="323.99" class="tk" font-size="5.8" text-anchor="end" textLength="6.38" lengthAdjust="spacingAndGlyphs">80</text>
<text transform="translate(12,357.8) rotate(-90)" class="mr" text-anchor="middle" textLength="28.6" lengthAdjust="spacingAndGlyphs">meanrisk</text>
<rect x="33.19" y="375.8" width="6.6" height="15.2" fill="#ED7D31"/>
<rect x="48.35" y="381.59" width="6.6" height="9.41" fill="#ED7D31"/>
<rect x="63.52" y="376.75" width="6.6" height="14.25" fill="#ED7D31"/>
<rect x="78.69" y="381.24" width="6.6" height="9.76" fill="#ED7D31"/>
<rect x="93.86" y="385.56" width="6.6" height="5.44" fill="#ED7D31"/>
<rect x="109.03" y="354.03" width="6.6" height="36.97" fill="#ED7D31"/>
<rect x="124.2" y="377.87" width="6.6" height="13.13" fill="#ED7D31"/>
<rect x="139.37" y="365.61" width="6.6" height="25.39" fill="#ED7D31"/>
<rect x="154.54" y="347.81" width="6.6" height="43.19" fill="#ED7D31"/>
<rect x="169.71" y="326.39" width="6.6" height="64.61" fill="#ED7D31"/>
<text transform="translate(37.78,398.9) rotate(-45)" class="xl" font-size="4.81" text-anchor="end" textLength="17.1" lengthAdjust="spacing">[0,1.83]</text>
<text transform="translate(52.95,398.9) rotate(-45)" class="xl" font-size="4.81" text-anchor="end" textLength="23.85" lengthAdjust="spacing">(1.83,2.69]</text>
<text transform="translate(68.12,398.9) rotate(-45)" class="xl" font-size="4.81" text-anchor="end" textLength="23.85" lengthAdjust="spacing">(2.69,3.35]</text>
<text transform="translate(83.29,398.9) rotate(-45)" class="xl" font-size="4.81" text-anchor="end" textLength="23.65" lengthAdjust="spacing">(3.35,4.11]</text>
<text transform="translate(98.46,398.9) rotate(-45)" class="xl" font-size="4.81" text-anchor="end" textLength="23.65" lengthAdjust="spacing">(4.11,4.64]</text>
<text transform="translate(113.63,398.9) rotate(-45)" class="xl" font-size="4.81" text-anchor="end" textLength="21.15" lengthAdjust="spacing">(4.64,5.2]</text>
<text transform="translate(128.81,398.9) rotate(-45)" class="xl" font-size="4.81" text-anchor="end" textLength="21.15" lengthAdjust="spacing">(5.2,5.62]</text>
<text transform="translate(143.97,398.9) rotate(-45)" class="xl" font-size="4.81" text-anchor="end" textLength="23.85" lengthAdjust="spacing">(5.62,6.03]</text>
<text transform="translate(159.15,398.9) rotate(-45)" class="xl" font-size="4.81" text-anchor="end" textLength="23.85" lengthAdjust="spacing">(6.03,8.38]</text>
<text transform="translate(174.31,398.9) rotate(-45)" class="xl" font-size="4.81" text-anchor="end" textLength="23.85" lengthAdjust="spacing">(8.38,12.1]</text>
<text x="13.2" y="309.4" class="st" textLength="30.5" lengthAdjust="spacingAndGlyphs">i. SDBH</text>
<line x1="207.4" y1="389.3" x2="358.8" y2="389.3" class="gr"/>
<line x1="207.4" y1="380.89" x2="358.8" y2="380.89" class="gr"/>
<line x1="207.4" y1="372.48" x2="358.8" y2="372.48" class="gr"/>
<line x1="207.4" y1="364.06" x2="358.8" y2="364.06" class="gr"/>
<line x1="207.4" y1="355.65" x2="358.8" y2="355.65" class="gr"/>
<line x1="207.4" y1="347.24" x2="358.8" y2="347.24" class="gr"/>
<line x1="207.4" y1="338.82" x2="358.8" y2="338.82" class="gr"/>
<line x1="207.4" y1="330.41" x2="358.8" y2="330.41" class="gr"/>
<line x1="207.4" y1="322" x2="358.8" y2="322" class="gr"/>
<line x1="207.4" y1="322" x2="207.4" y2="389.3" class="gr"/>
<line x1="218.21" y1="322" x2="218.21" y2="389.3" class="gr"/>
<line x1="229.03" y1="322" x2="229.03" y2="389.3" class="gr"/>
<line x1="239.84" y1="322" x2="239.84" y2="389.3" class="gr"/>
<line x1="250.66" y1="322" x2="250.66" y2="389.3" class="gr"/>
<line x1="261.47" y1="322" x2="261.47" y2="389.3" class="gr"/>
<line x1="272.29" y1="322" x2="272.29" y2="389.3" class="gr"/>
<line x1="283.1" y1="322" x2="283.1" y2="389.3" class="gr"/>
<line x1="293.91" y1="322" x2="293.91" y2="389.3" class="gr"/>
<line x1="304.73" y1="322" x2="304.73" y2="389.3" class="gr"/>
<line x1="315.54" y1="322" x2="315.54" y2="389.3" class="gr"/>
<line x1="326.36" y1="322" x2="326.36" y2="389.3" class="gr"/>
<line x1="337.17" y1="322" x2="337.17" y2="389.3" class="gr"/>
<line x1="347.99" y1="322" x2="347.99" y2="389.3" class="gr"/>
<line x1="358.8" y1="322" x2="358.8" y2="389.3" class="gr"/>
<text x="202.7" y="391.39" class="tk" font-size="5.8" text-anchor="end" textLength="3.19" lengthAdjust="spacingAndGlyphs">0</text>
<text x="202.7" y="382.98" class="tk" font-size="5.8" text-anchor="end" textLength="6.38" lengthAdjust="spacingAndGlyphs">10</text>
<text x="202.7" y="374.56" class="tk" font-size="5.8" text-anchor="end" textLength="6.38" lengthAdjust="spacingAndGlyphs">20</text>
<text x="202.7" y="366.15" class="tk" font-size="5.8" text-anchor="end" textLength="6.38" lengthAdjust="spacingAndGlyphs">30</text>
<text x="202.7" y="357.74" class="tk" font-size="5.8" text-anchor="end" textLength="6.38" lengthAdjust="spacingAndGlyphs">40</text>
<text x="202.7" y="349.33" class="tk" font-size="5.8" text-anchor="end" textLength="6.38" lengthAdjust="spacingAndGlyphs">50</text>
<text x="202.7" y="340.91" class="tk" font-size="5.8" text-anchor="end" textLength="6.38" lengthAdjust="spacingAndGlyphs">60</text>
<text x="202.7" y="332.5" class="tk" font-size="5.8" text-anchor="end" textLength="6.38" lengthAdjust="spacingAndGlyphs">70</text>
<text x="202.7" y="324.09" class="tk" font-size="5.8" text-anchor="end" textLength="6.38" lengthAdjust="spacingAndGlyphs">80</text>
<text transform="translate(194,356) rotate(-90)" class="mr" text-anchor="middle" textLength="28.2" lengthAdjust="spacingAndGlyphs">meanrisk</text>
<rect x="214.61" y="381.56" width="7.2" height="7.74" fill="#5B9BD5"/>
<rect x="236.24" y="377.77" width="7.2" height="11.53" fill="#5B9BD5"/>
<rect x="257.87" y="378.53" width="7.2" height="10.77" fill="#5B9BD5"/>
<rect x="279.5" y="352.29" width="7.2" height="37.01" fill="#5B9BD5"/>
<rect x="301.13" y="377.27" width="7.2" height="12.03" fill="#5B9BD5"/>
<rect x="322.76" y="333.78" width="7.2" height="55.52" fill="#5B9BD5"/>
<rect x="344.39" y="326.04" width="7.2" height="63.26" fill="#5B9BD5"/>
<text transform="translate(219.51,397.2) rotate(-45)" class="xl" font-size="4.81" text-anchor="end" textLength="29.25" lengthAdjust="spacing">[0.102,0.148]</text>
<text transform="translate(241.14,397.2) rotate(-45)" class="xl" font-size="4.81" text-anchor="end" textLength="29.25" lengthAdjust="spacing">(0.148,0.194]</text>
<text transform="translate(262.77,397.2) rotate(-45)" class="xl" font-size="4.81" text-anchor="end" textLength="26.55" lengthAdjust="spacing">(0.194,0.24]</text>
<text transform="translate(284.4,397.2) rotate(-45)" class="xl" font-size="4.81" text-anchor="end" textLength="26.55" lengthAdjust="spacing">(0.24,0.286]</text>
<text transform="translate(306.03,397.2) rotate(-45)" class="xl" font-size="4.81" text-anchor="end" textLength="29.25" lengthAdjust="spacing">(0.286,0.332]</text>
<text transform="translate(327.66,397.2) rotate(-45)" class="xl" font-size="4.81" text-anchor="end" textLength="29.25" lengthAdjust="spacing">(0.332,0.378]</text>
<text transform="translate(349.29,397.2) rotate(-45)" class="xl" font-size="4.81" text-anchor="end" textLength="29.25" lengthAdjust="spacing">(0.378,0.424]</text>
<text x="197.9" y="310.5" class="st" textLength="22.0" lengthAdjust="spacingAndGlyphs">ii. BD</text>
<line x1="390.5" y1="389.3" x2="541.7" y2="389.3" class="gr"/>
<line x1="390.5" y1="380.85" x2="541.7" y2="380.85" class="gr"/>
<line x1="390.5" y1="372.4" x2="541.7" y2="372.4" class="gr"/>
<line x1="390.5" y1="363.95" x2="541.7" y2="363.95" class="gr"/>
<line x1="390.5" y1="355.5" x2="541.7" y2="355.5" class="gr"/>
<line x1="390.5" y1="347.05" x2="541.7" y2="347.05" class="gr"/>
<line x1="390.5" y1="338.6" x2="541.7" y2="338.6" class="gr"/>
<line x1="390.5" y1="330.15" x2="541.7" y2="330.15" class="gr"/>
<line x1="390.5" y1="321.7" x2="541.7" y2="321.7" class="gr"/>
<line x1="390.5" y1="321.7" x2="390.5" y2="389.3" class="gr"/>
<line x1="398.9" y1="321.7" x2="398.9" y2="389.3" class="gr"/>
<line x1="407.3" y1="321.7" x2="407.3" y2="389.3" class="gr"/>
<line x1="415.7" y1="321.7" x2="415.7" y2="389.3" class="gr"/>
<line x1="424.1" y1="321.7" x2="424.1" y2="389.3" class="gr"/>
<line x1="432.5" y1="321.7" x2="432.5" y2="389.3" class="gr"/>
<line x1="440.9" y1="321.7" x2="440.9" y2="389.3" class="gr"/>
<line x1="449.3" y1="321.7" x2="449.3" y2="389.3" class="gr"/>
<line x1="457.7" y1="321.7" x2="457.7" y2="389.3" class="gr"/>
<line x1="466.1" y1="321.7" x2="466.1" y2="389.3" class="gr"/>
<line x1="474.5" y1="321.7" x2="474.5" y2="389.3" class="gr"/>
<line x1="482.9" y1="321.7" x2="482.9" y2="389.3" class="gr"/>
<line x1="491.3" y1="321.7" x2="491.3" y2="389.3" class="gr"/>
<line x1="499.7" y1="321.7" x2="499.7" y2="389.3" class="gr"/>
<line x1="508.1" y1="321.7" x2="508.1" y2="389.3" class="gr"/>
<line x1="516.5" y1="321.7" x2="516.5" y2="389.3" class="gr"/>
<line x1="524.9" y1="321.7" x2="524.9" y2="389.3" class="gr"/>
<line x1="533.3" y1="321.7" x2="533.3" y2="389.3" class="gr"/>
<line x1="541.7" y1="321.7" x2="541.7" y2="389.3" class="gr"/>
<text x="385.8" y="391.39" class="tk" font-size="5.8" text-anchor="end" textLength="3.19" lengthAdjust="spacingAndGlyphs">0</text>
<text x="385.8" y="382.94" class="tk" font-size="5.8" text-anchor="end" textLength="6.38" lengthAdjust="spacingAndGlyphs">10</text>
<text x="385.8" y="374.49" class="tk" font-size="5.8" text-anchor="end" textLength="6.38" lengthAdjust="spacingAndGlyphs">20</text>
<text x="385.8" y="366.04" class="tk" font-size="5.8" text-anchor="end" textLength="6.38" lengthAdjust="spacingAndGlyphs">30</text>
<text x="385.8" y="357.59" class="tk" font-size="5.8" text-anchor="end" textLength="6.38" lengthAdjust="spacingAndGlyphs">40</text>
<text x="385.8" y="349.14" class="tk" font-size="5.8" text-anchor="end" textLength="6.38" lengthAdjust="spacingAndGlyphs">50</text>
<text x="385.8" y="340.69" class="tk" font-size="5.8" text-anchor="end" textLength="6.38" lengthAdjust="spacingAndGlyphs">60</text>
<text x="385.8" y="332.24" class="tk" font-size="5.8" text-anchor="end" textLength="6.38" lengthAdjust="spacingAndGlyphs">70</text>
<text x="385.8" y="323.79" class="tk" font-size="5.8" text-anchor="end" textLength="6.38" lengthAdjust="spacingAndGlyphs">80</text>
<text transform="translate(376,355.6) rotate(-90)" class="mr" text-anchor="middle" textLength="28.4" lengthAdjust="spacingAndGlyphs">meanrisk</text>
<rect x="395.5" y="364.12" width="6.8" height="25.18" fill="#FFC000"/>
<rect x="412.3" y="369.44" width="6.8" height="19.86" fill="#FFC000"/>
<rect x="429.1" y="374.09" width="6.8" height="15.21" fill="#FFC000"/>
<rect x="445.9" y="381.36" width="6.8" height="7.94" fill="#FFC000"/>
<rect x="462.7" y="364.8" width="6.8" height="24.5" fill="#FFC000"/>
<rect x="479.5" y="353.81" width="6.8" height="35.49" fill="#FFC000"/>
<rect x="496.3" y="359.3" width="6.8" height="30" fill="#FFC000"/>
<rect x="513.1" y="336.57" width="6.8" height="52.73" fill="#FFC000"/>
<rect x="529.9" y="376.03" width="6.8" height="13.27" fill="#FFC000"/>
<text transform="translate(400.2,396.2) rotate(-45)" class="xl" font-size="4.81" text-anchor="end" textLength="26.55" lengthAdjust="spacing">[0.323,0.43]</text>
<text transform="translate(417,396.2) rotate(-45)" class="xl" font-size="4.81" text-anchor="end" textLength="26.55" lengthAdjust="spacing">(0.43,0.537]</text>
<text transform="translate(433.8,396.2) rotate(-45)" class="xl" font-size="4.81" text-anchor="end" textLength="29.25" lengthAdjust="spacing">(0.537,0.645]</text>
<text transform="translate(450.6,396.2) rotate(-45)" class="xl" font-size="4.81" text-anchor="end" textLength="29.25" lengthAdjust="spacing">(0.645,0.752]</text>
<text transform="translate(467.4,396.2) rotate(-45)" class="xl" font-size="4.81" text-anchor="end" textLength="29.25" lengthAdjust="spacing">(0.752,0.859]</text>
<text transform="translate(484.2,396.2) rotate(-45)" class="xl" font-size="4.81" text-anchor="end" textLength="29.25" lengthAdjust="spacing">(0.859,0.966]</text>
<text transform="translate(501,396.2) rotate(-45)" class="xl" font-size="4.81" text-anchor="end" textLength="26.55" lengthAdjust="spacing">(0.966,1.07]</text>
<text transform="translate(517.8,396.2) rotate(-45)" class="xl" font-size="4.81" text-anchor="end" textLength="23.85" lengthAdjust="spacing">(1.07,1.18]</text>
<text transform="translate(534.6,396.2) rotate(-45)" class="xl" font-size="4.81" text-anchor="end" textLength="23.85" lengthAdjust="spacing">(1.18,1.29]</text>
<text x="381" y="310" class="st" textLength="25.5" lengthAdjust="spacingAndGlyphs">iii. BFI</text>
<g fill="none" stroke-width="0.78">
<path d="M75.55 69.75Q171.6 43.7 233.7 72.14" stroke="#9CBBA3"/>
<path d="M75.55 69.75Q191 29.6 267.17 73.33" stroke="#9CBBA3"/>
<path d="M233.7 72.14A354.97 354.97 0 0 1 482.09 71.74" stroke="#9CBBA3"/>
<path d="M267.17 73.33A339.05 339.05 0 0 1 448.61 72.4" stroke="#9CBBA3"/>
<path d="M37.75 91.6A623.02 623.02 0 0 1 317.37 93.58" stroke="#D49BDE"/>
<path d="M317.37 93.58A105.43 105.43 0 0 1 415.12 86.04" stroke="#D49BDE"/>
<path d="M317.37 93.58A151.07 151.07 0 0 1 465.35 82.99" stroke="#D49BDE"/>
<path d="M170.05 42.61Q201.8 38.5 216.97 66.18" stroke="#E99AA5"/>
<path d="M170.05 42.61Q231.6 32.1 250.43 66.57" stroke="#E99AA5"/>
<path d="M170.05 42.61Q252.7 16 300.63 66.04" stroke="#E99AA5"/>
<path d="M300.63 66.04Q426 -3.3 532.33 67.24" stroke="#E99AA5"/>
<path d="M300.63 66.04Q427.7 14.7 515.58 67.63" stroke="#E99AA5"/>
<path d="M250.43 66.57Q416.2 20.9 532.33 67.24" stroke="#E99AA5"/>
<path d="M250.43 66.57Q432.3 20 515.58 67.63" stroke="#E99AA5"/>
<path d="M216.97 66.18Q371.5 28.5 532.33 67.24" stroke="#E99AA5"/>
<path d="M216.97 66.18Q389.1 27.5 515.58 67.63" stroke="#E99AA5"/>
<path d="M120.4 229A196.08 196.08 0 0 1 334.97 230.89" stroke="#9CBBA3"/>
<path d="M154 230.01A169.62 169.62 0 0 1 334.97 230.89" stroke="#9CBBA3"/>
<path d="M334.97 230.89A97.89 97.89 0 0 1 473.94 237.98" stroke="#9CBBA3"/>
<path d="M334.97 230.89A72.15 72.15 0 0 1 443.38 237.7" stroke="#9CBBA3"/>
<path d="M334.97 230.89A74.12 74.12 0 0 1 428.1 236.81" stroke="#9CBBA3"/>
<path d="M36.4 244.07A249.22 249.22 0 0 1 250.86 247.45" stroke="#A98BDC"/>
<path d="M250.86 247.45A192.42 192.42 0 0 1 397.54 248.6" stroke="#A98BDC"/>
<path d="M103.6 189.49A188.87 188.87 0 0 1 284.5 193.04" stroke="#E99AA5"/>
<path d="M284.5 193.04Q433.3 142.6 519.78 208.39" stroke="#E99AA5"/>
<path d="M284.5 193.04Q421.9 148 489.22 211.79" stroke="#E99AA5"/>
<path d="M142.67 365.61A164.64 164.64 0 0 1 283.1 352.29" stroke="#9CBBA3"/>
<path d="M283.1 352.29A230.79 230.79 0 0 1 466.1 364.8" stroke="#9CBBA3"/>
<path d="M283.1 352.29A116.17 116.17 0 0 1 398.9 364.12" stroke="#9CBBA3"/>
<path d="M51.65 381.59A244.5 244.5 0 0 1 261.47 378.53" stroke="#D27AD6"/>
<path d="M51.65 381.59A197.93 197.93 0 0 1 218.21 381.56" stroke="#D27AD6"/>
<path d="M97.16 385.56A192.65 192.65 0 0 1 261.47 378.53" stroke="#D27AD6"/>
<path d="M97.16 385.56A142.07 142.07 0 0 1 218.21 381.56" stroke="#D27AD6"/>
<path d="M218.21 381.56A376.16 376.16 0 0 1 533.3 376.03" stroke="#D27AD6"/>
<path d="M218.21 381.56A298.62 298.62 0 0 1 449.3 381.36" stroke="#D27AD6"/>
<path d="M261.47 378.53A400.3 400.3 0 0 1 533.3 376.03" stroke="#D27AD6"/>
<path d="M261.47 378.53A318.95 318.95 0 0 1 449.3 381.36" stroke="#D27AD6"/>
<path d="M173.01 326.39A230.91 230.91 0 0 1 347.99 326.04" stroke="#E99AA5"/>
<path d="M173.01 326.39A223.95 223.95 0 0 1 326.36 333.78" stroke="#E99AA5"/>
<path d="M326.36 333.78A219.45 219.45 0 0 1 516.5 336.57" stroke="#E99AA5"/>
<path d="M347.99 326.04A197.45 197.45 0 0 1 516.5 336.57" stroke="#E99AA5"/>
</g>
<text x="12.6" y="14.5" class="tt" textLength="181.3" lengthAdjust="spacingAndGlyphs">a. Density Factors Associative Chain of CIRB</text>
<text x="13.9" y="160.8" class="tt" textLength="180.6" lengthAdjust="spacingAndGlyphs">b. Density Factors Associative Chain of CICB</text>
<text x="13.2" y="294.7" class="tt" textLength="179.1" lengthAdjust="spacingAndGlyphs">c. Density Factors Associative Chain of CIPB</text>
<line x1="92" y1="426.4" x2="109.5" y2="426.4" stroke="#E99AA5" stroke-width="0.8"/>
<text x="115.8" y="429.8" class="lg" textLength="55.3" lengthAdjust="spacingAndGlyphs">High-high-high</text>
<line x1="219" y1="426.6" x2="235" y2="426.6" stroke="#9CBBA3" stroke-width="0.8"/>
<text x="239.6" y="429.8" class="lg" textLength="96.3" lengthAdjust="spacingAndGlyphs">Medium-medium-medium</text>
<line x1="366" y1="426.6" x2="384" y2="426.6" stroke="#D49BDE" stroke-width="0.8"/>
<text x="392.2" y="429.8" class="lg" textLength="49.5" lengthAdjust="spacingAndGlyphs">Low-low-low</text>
<rect x="5.4" y="3.85" width="541.0" height="432.1" rx="1" fill="none" stroke="#4a4a4a" stroke-width="1.5"/>
</svg></body></html>
